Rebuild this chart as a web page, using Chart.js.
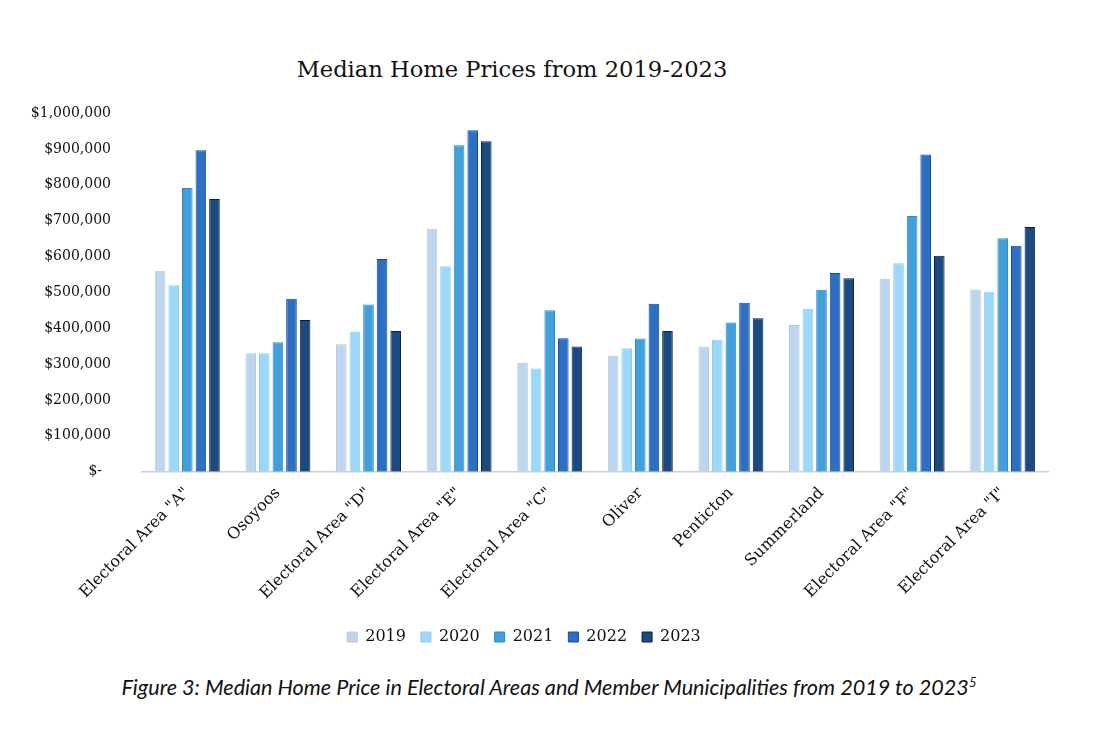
<!DOCTYPE html>
<html>
<head>
<meta charset="utf-8">
<script src="https://cdn.jsdelivr.net/npm/chart.js@4.4.1/dist/chart.umd.min.js"></script>
<style>
  html, body { margin: 0; padding: 0; background: #fff; }
  #page { position: relative; width: 1098px; height: 732px; overflow: hidden; }
  #title {
    position: absolute; left: 0; width: 1024px; top: 56px;
    text-align: center; font-family: "DejaVu Serif", serif; font-size: 22.6px; color: #111;
  }
  #chart-box { position: absolute; left: 0; top: 0; width: 1098px; height: 665px; }
  #caption {
    position: absolute; left: 0; width: 1098px; top: 674px;
    text-align: center; font-family: Lato, "Open Sans", sans-serif; font-style: italic;
    font-size: 21.6px; color: #111;
  }
  #caption sup { font-size: 13px; }
</style>
</head>
<body>
<div id="page">
  <div id="title">Median Home Prices from 2019-2023</div>
  <div id="chart-box"><canvas id="price-chart"></canvas></div>
  <div id="caption">Figure 3: Median Home Price in Electoral Areas and Member Municipalities from 2019 to 2023<sup>5</sup></div>
</div>
<script>
// Data
const areas = ['Electoral Area "A"', 'Osoyoos', 'Electoral Area "D"', 'Electoral Area "E"', 'Electoral Area "C"',
  'Oliver', 'Penticton', 'Summerland', 'Electoral Area "F"', 'Electoral Area "I"'];
const years = ['2019', '2020', '2021', '2022', '2023'];

const price2019 = [560000, 330000, 355000, 677000, 304000, 324000, 349000, 409000, 538000, 508000];
const price2020 = [520000, 330000, 391000, 573000, 288000, 344000, 368000, 454000, 581000, 502000];
const price2021 = [791000, 361000, 466000, 910000, 450000, 371000, 416000, 507000, 713000, 651000];
const price2022 = [896000, 482000, 593000, 952000, 372000, 468000, 471000, 554000, 884000, 630000];
const price2023 = [760000, 423000, 392000, 921000, 349000, 392000, 428000, 539000, 602000, 682000];

const yTicks = [0, 100000, 200000, 300000, 400000, 500000, 600000, 700000, 800000, 900000, 1000000];

const fills = ['#BED5EE', '#9ED8F8', '#439FD9', '#2F6FC2', '#1B4A7E'];
const borders = ['#B2CAE6', '#8CCDF2', '#2A8CC9', '#0E4AA8', '#071E4A'];

window.addEventListener('load', function () {
  const ctx = document.getElementById('price-chart').getContext('2d');
  const series = [price2019, price2020, price2021, price2022, price2023];

  const datasets = years.map((yr, i) => ({
    label: yr,
    data: series[i],
    backgroundColor: fills[i],
    borderColor: borders[i],
    borderWidth: 1,
    categoryPercentage: 0.75,
    barPercentage: 0.78
  }));

  new Chart(ctx, {
    type: 'bar',
    data: { labels: areas, datasets: datasets },
    options: {
      responsive: true,
      maintainAspectRatio: false,
      animation: false,
      layout: { padding: { top: 113, right: 50, bottom: 10, left: 0 } },
      scales: {
        x: {
          grid: { display: false },
          border: { display: true, color: '#D0D0D0', width: 1.5 },
          afterFit: function (axis) { axis.height += 7; },
          ticks: {
            minRotation: 45,
            maxRotation: 45,
            padding: 4,
            color: '#111',
            font: { family: '"DejaVu Serif", serif', size: 16 }
          }
        },
        y: {
          min: 0,
          max: 1000000,
          grid: { display: false },
          border: { display: false },
          afterBuildTicks: function (axis) {
            axis.ticks = yTicks.map(v => ({ value: v }));
          },
          afterFit: function (axis) { axis.width = 142; },
          ticks: {
            padding: 23,
            color: '#111',
            font: { family: '"DejaVu Serif", serif', size: 14 },
            callback: function (v) {
              return v === 0 ? '$-  ' : '$' + v.toLocaleString('en-US');
            }
          }
        }
      },
      plugins: {
        title: { display: false },
        tooltip: { enabled: false },
        legend: {
          position: 'bottom',
          labels: {
            boxWidth: 10,
            boxHeight: 10,
            padding: 15,
            color: '#111',
            font: { family: '"DejaVu Serif", serif', size: 16 }
          }
        }
      }
    }
  });
});
</script>
</body>
</html>
